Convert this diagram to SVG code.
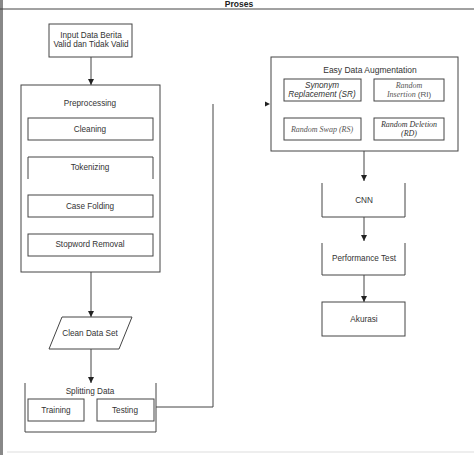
<svg xmlns="http://www.w3.org/2000/svg" width="474" height="455" viewBox="0 0 474 455">
<defs>
<style>
.b{fill:#fff;stroke:#444;stroke-width:1}
.o{fill:none;stroke:#444;stroke-width:1}
.t{font-family:"Liberation Sans",Arial,sans-serif;font-size:8.2px;fill:#333;text-anchor:middle}
.i{font-style:italic}
.s{font-family:"Liberation Serif","Times New Roman",serif;font-style:italic;font-size:8px;fill:#555;text-anchor:middle}
.c{fill:none;stroke:#444;stroke-width:1}
</style>
<marker id="a" viewBox="0 0 6 6" refX="6" refY="3" markerWidth="6" markerHeight="6" orient="auto" markerUnits="userSpaceOnUse">
<path d="M0,0 L6,3 L0,6 Z" fill="#222"/>
</marker>
</defs>
<rect width="474" height="455" fill="#fff"/>
<g id="frame">
<line x1="1.5" y1="0" x2="1.5" y2="455" stroke="#888" stroke-width="3"/>
<line x1="0" y1="9" x2="474" y2="9" stroke="#444" stroke-width="1"/>
<line x1="7" y1="452" x2="474" y2="452" stroke="#ddd" stroke-width="1"/>
<text x="239" y="6.5" class="t" style="font-size:8.5px;font-weight:bold;fill:#222">Proses</text>
</g>
<g id="connectors">
<line class="c" x1="91" y1="57" x2="91" y2="85" marker-end="url(#a)"/>
<line class="c" x1="91" y1="140" x2="91" y2="157" marker-end="url(#a)"/>
<line class="c" x1="91" y1="179" x2="91" y2="195" marker-end="url(#a)"/>
<line class="c" x1="91" y1="217" x2="91" y2="234" marker-end="url(#a)"/>
<line class="c" x1="91" y1="272" x2="91" y2="317" marker-end="url(#a)"/>
<line class="c" x1="91" y1="349" x2="91" y2="383" marker-end="url(#a)"/>
<path class="c" d="M156,407 H213 V104"/>
<path d="M265,101.5 L270,104 L265,106.5 Z" fill="#222"/>
<line class="c" x1="364" y1="151" x2="364" y2="181" marker-end="url(#a)"/>
<line class="c" x1="364" y1="217" x2="364" y2="241" marker-end="url(#a)"/>
<line class="c" x1="364" y1="275" x2="364" y2="302" marker-end="url(#a)"/>
</g>
<g id="input">
<rect class="b" x="49" y="24" width="83" height="33"/>
<text class="t" x="91" y="38">Input Data Berita</text>
<text class="t" x="91" y="47">Valid dan Tidak Valid</text>
</g>
<g id="preprocessing">
<rect class="b" x="21" y="85" width="139" height="187"/>
<text class="t" x="90" y="106">Preprocessing</text>
</g>
<g id="cleaning">
<rect class="b" x="28" y="118" width="125" height="22"/>
<text class="t" x="90" y="132">Cleaning</text>
</g>
<g id="tokenizing">
<path class="o" d="M28,179 V157 H153 V179"/>
<text class="t" x="90" y="170">Tokenizing</text>
</g>
<g id="casefolding">
<rect class="b" x="28" y="195" width="125" height="22"/>
<text class="t" x="90" y="209">Case Folding</text>
</g>
<g id="stopword">
<rect class="b" x="28" y="234" width="125" height="22"/>
<text class="t" x="90" y="247">Stopword Removal</text>
</g>
<g id="cleandataset">
<polygon class="b" points="62,317 132,317 119,349 49,349"/>
<text class="t" x="90" y="336">Clean Data Set</text>
</g>
<g id="splitting">
<path class="o" d="M25,383 V432 H156 V383"/>
<text class="t" x="90" y="394">Splitting Data</text>
</g>
<g id="training">
<rect class="b" x="28" y="399" width="56" height="22"/>
<text class="t" x="56" y="413">Training</text>
</g>
<g id="testing">
<rect class="b" x="97" y="399" width="57" height="22"/>
<text class="t" x="125" y="413">Testing</text>
</g>
<g id="eda">
<rect class="b" x="271" y="57" width="187" height="94"/>
<text class="t" x="370" y="73" style="font-size:8.5px">Easy Data Augmentation</text>
</g>
<g id="sr">
<rect class="b" x="284" y="79" width="77" height="22"/>
<text class="t i" x="322" y="88">Synonym</text>
<text class="t i" x="322" y="97">Replacement (SR)</text>
</g>
<g id="ri">
<rect class="b" x="374" y="79" width="70" height="22"/>
<text class="s" x="409" y="88">Random</text>
<text class="s" x="409" y="97">Insertion <tspan style="font-family:'Liberation Sans',Arial,sans-serif;font-style:normal">(RI)</tspan></text>
</g>
<g id="rs">
<rect class="b" x="284" y="118" width="77" height="22"/>
<text class="s" x="322" y="132">Random Swap (RS)</text>
</g>
<g id="rd">
<rect class="b" x="374" y="118" width="70" height="22"/>
<text class="s" x="409" y="127" style="fill:#333">Random Deletion</text>
<text class="s" x="409" y="136" style="fill:#333">(RD)</text>
</g>
<g id="cnn">
<path class="o" d="M322,183 V217 H405 V183"/>
<text class="t" x="364" y="203">CNN</text>
</g>
<g id="performance">
<path class="o" d="M322,243 V275 H405 V243"/>
<text class="t" x="364" y="261">Performance Test</text>
</g>
<g id="akurasi">
<rect class="b" x="322" y="302" width="83" height="34"/>
<text class="t" x="364" y="322">Akurasi</text>
</g>
</svg>
